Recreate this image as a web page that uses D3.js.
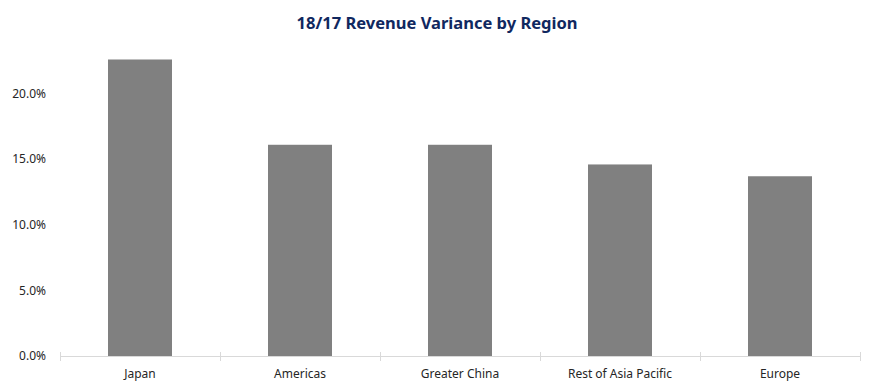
<!DOCTYPE html>
<html>
<head>
<meta charset="utf-8">
<script src="https://cdn.jsdelivr.net/npm/d3@7"></script>
<style>
  body { margin: 0; background: #fff; }
  text { font-family: "Noto Sans", sans-serif; }
</style>
</head>
<body>
<div id="chart"></div>
<script>
var regions = ['Japan', 'Americas', 'Greater China', 'Rest of Asia Pacific', 'Europe'];
var variance = [0.226, 0.161, 0.161, 0.146, 0.137];
var yTicks = [0, 0.05, 0.10, 0.15, 0.20];

var width = 875, height = 392;
var svg = d3.select('#chart').append('svg')
    .attr('width', width)
    .attr('height', height);

var x = d3.scaleBand()
    .domain(regions)
    .range([60, 860])
    .paddingInner(0.6)
    .paddingOuter(0.3);

var y = d3.scaleLinear()
    .domain([0, 0.25])
    .range([356, 28]);

// title
svg.append('text')
    .attr('x', 437)
    .attr('y', 29)
    .attr('text-anchor', 'middle')
    .attr('font-size', 16.5)
    .attr('font-weight', 'bold')
    .attr('fill', '#10285f')
    .attr('textLength', 281)
    .attr('lengthAdjust', 'spacingAndGlyphs')
    .text('18/17 Revenue Variance by Region');

// y labels (no gridlines, no axis line)
var fmt = d3.format('.1%');
svg.append('g').selectAll('text')
    .data(yTicks)
    .enter().append('text')
    .attr('x', 46)
    .attr('y', function(d) { return y(d); })
    .attr('dy', '0.35em')
    .attr('text-anchor', 'end')
    .attr('font-size', 12)
    .attr('fill', '#262626')
    .text(function(d) { return fmt(d); });

// bars
svg.append('g').selectAll('rect')
    .data(variance)
    .enter().append('rect')
    .attr('x', function(d, i) { return x(regions[i]); })
    .attr('y', function(d) { return y(d); })
    .attr('width', x.bandwidth())
    .attr('height', function(d) { return y(0) - y(d); })
    .attr('fill', '#808080');

// x axis line + boundary ticks
var step = x.step();
var bounds = d3.range(regions.length + 1).map(function(i) { return 60 + i * step; });
var axis = svg.append('g').attr('stroke', '#d9d9d9').attr('stroke-width', 1);
axis.append('line')
    .attr('x1', 60).attr('x2', 860)
    .attr('y1', y(0) + 0.5).attr('y2', y(0) + 0.5);
axis.selectAll('line.tick')
    .data(bounds)
    .enter().append('line')
    .attr('class', 'tick')
    .attr('x1', function(d) { return Math.round(d) + 0.5; })
    .attr('x2', function(d) { return Math.round(d) + 0.5; })
    .attr('y1', y(0) - 4)
    .attr('y2', y(0) + 5);

// category labels
svg.append('g').selectAll('text')
    .data(regions)
    .enter().append('text')
    .attr('x', function(d) { return x(d) + x.bandwidth() / 2; })
    .attr('y', 378)
    .attr('text-anchor', 'middle')
    .attr('font-size', 12)
    .attr('fill', '#262626')
    .text(function(d) { return d; });
</script>
</body>
</html>
